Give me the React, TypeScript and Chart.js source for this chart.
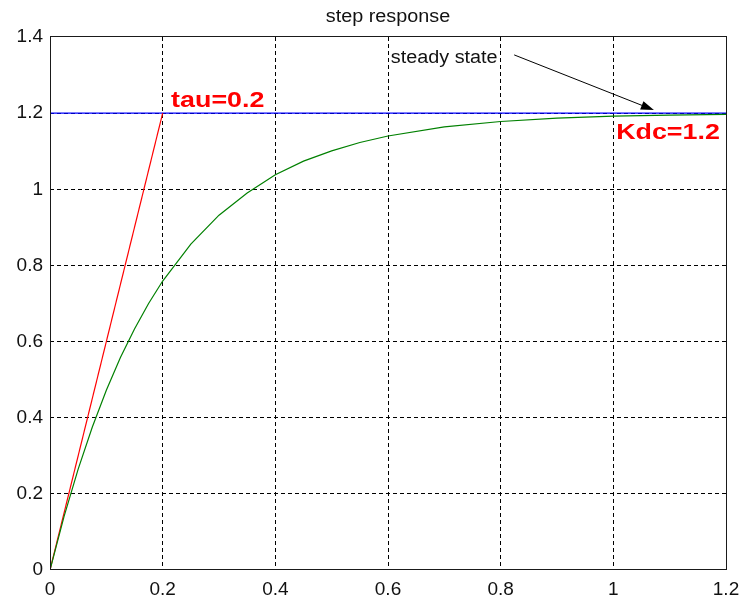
import { useEffect, useRef } from 'react';
import { Chart, registerables } from 'chart.js';

Chart.register(...registerables);

// ---- data ----
const responseTime = [0, 0.025, 0.05, 0.075, 0.1, 0.125, 0.15, 0.175, 0.2, 0.25, 0.3, 0.35, 0.4, 0.45, 0.5, 0.55, 0.6, 0.7, 0.8, 0.9, 1.0, 1.1, 1.2];
const responseValue = [0, 0.141, 0.265, 0.375, 0.472, 0.558, 0.633, 0.7, 0.759, 0.856, 0.932, 0.99, 1.038, 1.074, 1.101, 1.123, 1.14, 1.164, 1.178, 1.187, 1.192, 1.195, 1.197];
const tangentTime = [0, 0.2];
const tangentValue = [0, 1.2];
const steadyTime = [0, 1.2];
const steadyValue = [1.2, 1.2];

const xTicks = [0, 0.2, 0.4, 0.6, 0.8, 1.0, 1.2];
const xTickLabels = ['0', '0.2', '0.4', '0.6', '0.8', '1', '1.2'];
const yTicks = [0, 0.2, 0.4, 0.6, 0.8, 1.0, 1.2, 1.4];
const yTickLabels = ['0', '0.2', '0.4', '0.6', '0.8', '1', '1.2', '1.4'];

const titleText = 'step response';
const tauLabel = { text: 'tau=0.2', x: 0.215, y: 1.216 };
const kdcLabel = { text: 'Kdc=1.2', x: 1.005, y: 1.133 };
const steadyLabel = { text: 'steady state', x: 0.605, y: 1.333 };
const arrowFrom = { x: 0.824, y: 1.353 };
const arrowTo = { x: 1.072, y: 1.208 };

const FONT = '"Liberation Sans", Arial, Helvetica, sans-serif';

const pts = (xs: number[], ys: number[]) => xs.map((x, i) => ({ x, y: ys[i] }));

function stretchedText(ctx: CanvasRenderingContext2D, text: string, px: number, py: number, sx: number) {
  ctx.save();
  ctx.translate(px, py);
  ctx.scale(sx, 1);
  ctx.fillText(text, 0, 0);
  ctx.restore();
}

const overlay = {
  id: 'overlay',
  afterDatasetsDraw(chart: any) {
    const ctx: CanvasRenderingContext2D = chart.ctx;
    const { left, top, right, bottom } = chart.chartArea;
    const xs = chart.scales.x;
    const ys = chart.scales.y;
    ctx.save();
    // frame
    ctx.strokeStyle = '#1a1a1a';
    ctx.lineWidth = 1;
    ctx.setLineDash([]);
    ctx.strokeRect(Math.round(left) + 0.5, Math.round(top) - 0.5, Math.round(right - left), Math.round(bottom - top));

    // title
    ctx.fillStyle = '#111';
    ctx.font = `18px ${FONT}`;
    ctx.textBaseline = 'alphabetic';
    ctx.textAlign = 'left';
    const tw = ctx.measureText(titleText).width * 1.1;
    stretchedText(ctx, titleText, (left + right) / 2 - tw / 2, 22, 1.1);

    // steady state
    stretchedText(ctx, steadyLabel.text, xs.getPixelForValue(steadyLabel.x), ys.getPixelForValue(steadyLabel.y), 1.1);

    // arrow
    const x1 = xs.getPixelForValue(arrowFrom.x), y1 = ys.getPixelForValue(arrowFrom.y);
    const x2 = xs.getPixelForValue(arrowTo.x), y2 = ys.getPixelForValue(arrowTo.y);
    const ang = Math.atan2(y2 - y1, x2 - x1);
    const len = 13, hw = 4.5;
    ctx.strokeStyle = '#000';
    ctx.beginPath();
    ctx.moveTo(x1, y1);
    ctx.lineTo(x2 - Math.cos(ang) * len * 0.8, y2 - Math.sin(ang) * len * 0.8);
    ctx.stroke();
    ctx.fillStyle = '#000';
    ctx.beginPath();
    ctx.moveTo(x2, y2);
    ctx.lineTo(x2 - Math.cos(ang) * len - Math.sin(ang) * hw, y2 - Math.sin(ang) * len + Math.cos(ang) * hw);
    ctx.lineTo(x2 - Math.cos(ang) * len + Math.sin(ang) * hw, y2 - Math.sin(ang) * len - Math.cos(ang) * hw);
    ctx.closePath();
    ctx.fill();

    // red bold labels
    ctx.fillStyle = '#ff0000';
    ctx.font = `bold 22px ${FONT}`;
    stretchedText(ctx, tauLabel.text, xs.getPixelForValue(tauLabel.x), ys.getPixelForValue(tauLabel.y), 1.22);
    stretchedText(ctx, kdcLabel.text, xs.getPixelForValue(kdcLabel.x), ys.getPixelForValue(kdcLabel.y), 1.22);
    ctx.restore();
  },
};

export default function App() {
  const ref = useRef<HTMLCanvasElement>(null);

  useEffect(() => {
    if (!ref.current) return;
    const edgeColor = (last: number) => (c: any) =>
      c.index === 0 || c.index === last ? 'rgba(0,0,0,0)' : '#000';
    const chart = new Chart(ref.current, {
      type: 'line',
      data: {
        datasets: [
          {
            data: pts(responseTime, responseValue),
            borderColor: '#008000',
            borderWidth: 1.2,
            pointRadius: 0,
            tension: 0,
            order: 0,
          },
          {
            data: pts(tangentTime, tangentValue),
            borderColor: '#ff0000',
            borderWidth: 1.2,
            pointRadius: 0,
            tension: 0,
            order: 1,
          },
          {
            data: pts(steadyTime, steadyValue),
            borderColor: '#0000ff',
            borderWidth: 1.2,
            pointRadius: 0,
            tension: 0,
            order: 2,
          },
        ],
      },
      options: {
        animation: false,
        responsive: false,
        devicePixelRatio: 1,
        layout: { padding: { top: 37, right: 26, left: 0, bottom: 0 } },
        plugins: { legend: { display: false }, tooltip: { enabled: false }, title: { display: false } },
        scales: {
          x: {
            type: 'linear',
            min: 0,
            max: 1.2,
            afterBuildTicks: (s: any) => {
              s.ticks = xTicks.map((v) => ({ value: v }));
            },
            afterFit: (s: any) => {
              s.height = 40;
            },
            grid: { color: edgeColor(xTicks.length - 1), lineWidth: 1, drawTicks: false },
            border: { display: false, dash: [4, 3] },
            ticks: {
              padding: 8,
              maxRotation: 0,
              color: '#111',
              font: { family: FONT, size: 19 },
              callback: (_v: any, i: number) => xTickLabels[i],
            },
          },
          y: {
            type: 'linear',
            min: 0,
            max: 1.4,
            afterBuildTicks: (s: any) => {
              s.ticks = yTicks.map((v) => ({ value: v }));
            },
            afterFit: (s: any) => {
              s.width = 50;
            },
            grid: { color: edgeColor(yTicks.length - 1), lineWidth: 1, drawTicks: false },
            border: { display: false, dash: [4, 3] },
            ticks: {
              padding: 7,
              color: '#111',
              font: { family: FONT, size: 19 },
              callback: (_v: any, i: number) => yTickLabels[i],
            },
          },
        },
      },
      plugins: [overlay],
    } as any);
    return () => chart.destroy();
  }, []);

  return (
    <div style={{ position: 'fixed', left: 0, top: 0, width: 752, height: 610, background: '#fff' }}>
      <canvas ref={ref} width={752} height={610} style={{ display: 'block', width: 752, height: 610 }} />
    </div>
  );
}
